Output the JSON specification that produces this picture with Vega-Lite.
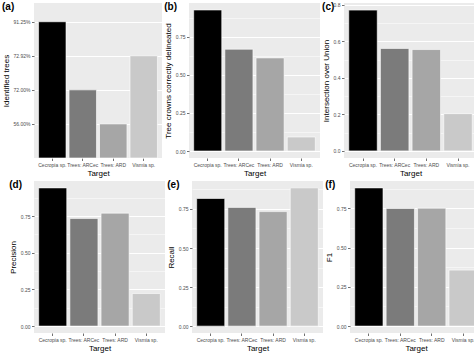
{
  "$schema": "https://vega.github.io/schema/vega-lite/v6.json",
  "padding": {"left": 2, "top": 1, "right": 0, "bottom": 0},
  "background": "white",
  "datasets": {
    "m": [
      {"target": "Cecropia sp.", "identified_level": 4, "identified_label": "91.25%", "crowns": 0.927, "iou": 0.771, "precision": 0.942, "recall": 0.817, "f1": 0.881},
      {"target": "Trees: ARCec", "identified_level": 2, "identified_label": "72.00%", "crowns": 0.669, "iou": 0.561, "precision": 0.733, "recall": 0.76, "f1": 0.75},
      {"target": "Trees: ARD", "identified_level": 1, "identified_label": "56.00%", "crowns": 0.612, "iou": 0.555, "precision": 0.77, "recall": 0.733, "f1": 0.752},
      {"target": "Vismia sp.", "identified_level": 3, "identified_label": "72.92%", "crowns": 0.092, "iou": 0.204, "precision": 0.222, "recall": 0.885, "f1": 0.357}
    ]
  },
  "data": {"name": "m"},
  "spacing": 2,
  "vconcat": [
    {
      "spacing": 2,
      "hconcat": [
        {
          "width": 128, "height": 155,
          "title": {"text": "(a)"},
          "mark": {"type": "bar", "stroke": "white", "strokeWidth": 0.6},
          "encoding": {
            "x": {"field": "target", "type": "nominal", "sort": null, "title": "Target"},
            "y": {"field": "identified_level", "type": "quantitative", "title": "Identified trees",
                  "scale": {"domain": [0, 4.55], "nice": false, "zero": false},
                  "axis": {"values": [1, 2, 3, 4], "labelExpr": "datum.value==1?'56.00%':datum.value==2?'72.00%':datum.value==3?'72.92%':'91.25%'"}},
            "y2": {"datum": 0},
            "color": {"field": "target", "type": "nominal", "sort": null, "legend": null}
          }
        },
        {
          "width": 131, "height": 155,
          "title": {"text": "(b)"},
          "mark": {"type": "bar", "stroke": "white", "strokeWidth": 0.6},
          "encoding": {
            "x": {"field": "target", "type": "nominal", "sort": null, "title": "Target"},
            "y": {"field": "crowns", "type": "quantitative", "title": "Tree crowns correctly delineated",
                  "scale": {"domain": [-0.046, 0.973], "nice": false, "zero": false},
                  "axis": {"values": [0, 0.125, 0.25, 0.375, 0.5, 0.625, 0.75, 0.875],
                           "labelExpr": "round(datum.value*8)%2==0 ? format(datum.value,'.2f') : ''",
                           "tickOpacity": {"condition": {"test": "round(datum.value*8)%2==1", "value": 0}, "value": 1},
                           "gridWidth": {"condition": {"test": "round(datum.value*8)%2==1", "value": 0.5}, "value": 1}}},
            "y2": {"datum": 0},
            "color": {"field": "target", "type": "nominal", "sort": null, "legend": null}
          }
        },
        {
          "width": 133, "height": 155,
          "title": {"text": "(c)"},
          "mark": {"type": "bar", "stroke": "white", "strokeWidth": 0.6},
          "encoding": {
            "x": {"field": "target", "type": "nominal", "sort": null, "title": "Target"},
            "y": {"field": "iou", "type": "quantitative", "title": "Intersection over Union",
                  "scale": {"domain": [-0.039, 0.81], "nice": false, "zero": false},
                  "axis": {"values": [0, 0.1, 0.2, 0.3, 0.4, 0.5, 0.6, 0.7, 0.8],
                           "labelExpr": "round(datum.value*10)%2==0 ? format(datum.value,'.1f') : ''",
                           "tickOpacity": {"condition": {"test": "round(datum.value*10)%2==1", "value": 0}, "value": 1},
                           "gridWidth": {"condition": {"test": "round(datum.value*10)%2==1", "value": 0.5}, "value": 1}}},
            "y2": {"datum": 0},
            "color": {"field": "target", "type": "nominal", "sort": null, "legend": null}
          }
        }
      ]
    },
    {
      "spacing": 2,
      "hconcat": [
        {
          "width": 131, "height": 152,
          "title": {"text": "(d)"},
          "mark": {"type": "bar", "stroke": "white", "strokeWidth": 0.6},
          "encoding": {
            "x": {"field": "target", "type": "nominal", "sort": null, "title": "Target"},
            "y": {"field": "precision", "type": "quantitative", "title": "Precision",
                  "scale": {"domain": [-0.047, 0.989], "nice": false, "zero": false},
                  "axis": {"values": [0, 0.125, 0.25, 0.375, 0.5, 0.625, 0.75, 0.875],
                           "labelExpr": "round(datum.value*8)%2==0 ? format(datum.value,'.2f') : ''",
                           "tickOpacity": {"condition": {"test": "round(datum.value*8)%2==1", "value": 0}, "value": 1},
                           "gridWidth": {"condition": {"test": "round(datum.value*8)%2==1", "value": 0.5}, "value": 1}}},
            "y2": {"datum": 0},
            "color": {"field": "target", "type": "nominal", "sort": null, "legend": null}
          }
        },
        {
          "width": 131, "height": 152,
          "title": {"text": "(e)"},
          "mark": {"type": "bar", "stroke": "white", "strokeWidth": 0.6},
          "encoding": {
            "x": {"field": "target", "type": "nominal", "sort": null, "title": "Target"},
            "y": {"field": "recall", "type": "quantitative", "title": "Recall",
                  "scale": {"domain": [-0.044, 0.929], "nice": false, "zero": false},
                  "axis": {"values": [0, 0.125, 0.25, 0.375, 0.5, 0.625, 0.75, 0.875],
                           "labelExpr": "round(datum.value*8)%2==0 ? format(datum.value,'.2f') : ''",
                           "tickOpacity": {"condition": {"test": "round(datum.value*8)%2==1", "value": 0}, "value": 1},
                           "gridWidth": {"condition": {"test": "round(datum.value*8)%2==1", "value": 0.5}, "value": 1}}},
            "y2": {"datum": 0},
            "color": {"field": "target", "type": "nominal", "sort": null, "legend": null}
          }
        },
        {
          "width": 132, "height": 152,
          "title": {"text": "(f)"},
          "mark": {"type": "bar", "stroke": "white", "strokeWidth": 0.6},
          "encoding": {
            "x": {"field": "target", "type": "nominal", "sort": null, "title": "Target"},
            "y": {"field": "f1", "type": "quantitative", "title": "F1",
                  "scale": {"domain": [-0.044, 0.925], "nice": false, "zero": false},
                  "axis": {"values": [0, 0.125, 0.25, 0.375, 0.5, 0.625, 0.75, 0.875],
                           "labelExpr": "round(datum.value*8)%2==0 ? format(datum.value,'.2f') : ''",
                           "tickOpacity": {"condition": {"test": "round(datum.value*8)%2==1", "value": 0}, "value": 1},
                           "gridWidth": {"condition": {"test": "round(datum.value*8)%2==1", "value": 0.5}, "value": 1}}},
            "y2": {"datum": 0},
            "color": {"field": "target", "type": "nominal", "sort": null, "legend": null}
          }
        }
      ]
    }
  ],
  "config": {
    "font": "Liberation Sans",
    "view": {"fill": "#EBEBEB", "stroke": null},
    "title": {"anchor": "start", "frame": "bounds", "fontSize": 10, "fontWeight": "bold", "color": "black", "offset": -9, "font": "Liberation Sans"},
    "range": {"category": ["#000000", "#7b7b7b", "#a6a6a6", "#c9c9c9"]},
    "scale": {"bandPaddingInner": 0.1, "bandPaddingOuter": 0.15},
    "axis": {
      "domain": false,
      "gridColor": "white",
      "gridWidth": 1,
      "tickColor": "#333333",
      "tickSize": 2.5,
      "tickWidth": 0.7,
      "labelFontSize": 5,
      "labelColor": "#4d4d4d",
      "labelPadding": 1.5,
      "titleFontSize": 8,
      "titleFontWeight": "normal",
      "titleColor": "black",
      "titlePadding": 2
    },
    "axisX": {"labelAngle": 0, "labelOverlap": false, "bandPosition": 0.5, "labelPadding": 2},
    "axisY": {"titlePadding": 3}
  }
}
